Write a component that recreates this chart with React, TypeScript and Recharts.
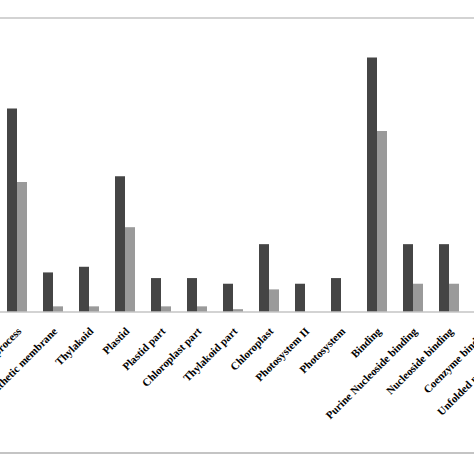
import React from 'react';
import { BarChart, Bar, XAxis, YAxis, ReferenceLine } from 'recharts';

const categories = [
  'Metabolic process',
  'Photosynthetic membrane',
  'Thylakoid',
  'Plastid',
  'Plastid part',
  'Chloroplast part',
  'Thylakoid part',
  'Chloroplast',
  'Photosystem II',
  'Photosystem',
  'Binding',
  'Purine Nucleoside binding',
  'Nucleoside binding',
  'Coenzyme binding',
  'Unfolded protein binding',
];

const darkValues = [36, 7, 8, 24, 6, 6, 5, 12, 5, 6, 45, 12, 12, 12, 4];
const lightValues = [23, 1, 1, 15, 1, 1, 0.5, 4, 0, 0, 32, 5, 5, 5, 1];

const data = categories.map((name, i) => ({
  name,
  dark: darkValues[i],
  light: lightValues[i],
}));

const LINE = '#c4c4c4';

function SlantTick(props: any) {
  const { x, y, payload } = props;
  const tx = x + 5;
  const ty = y + 12;
  return (
    <text
      x={tx}
      y={ty}
      transform={`rotate(-45 ${tx} ${ty})`}
      textAnchor="end"
      fontFamily="'Liberation Serif', 'Times New Roman', serif"
      fontWeight="bold"
      fontSize={11}
      fill="#000"
    >
      {payload.value}
    </text>
  );
}

export default function App() {
  return (
    <div style={{ position: 'absolute', left: 0, top: 0, width: 474, height: 474, overflow: 'hidden', background: '#fff' }}>
      <div style={{ position: 'absolute', left: -1.5, top: 0 }}>
        <BarChart
          width={540}
          height={474}
          data={data}
          margin={{ top: 18, right: 0, left: 0, bottom: 0 }}
          barGap={0}
        >
          <XAxis
            dataKey="name"
            interval={0}
            height={162}
            tickLine={false}
            axisLine={{ stroke: LINE, strokeWidth: 1.5 }}
            tick={SlantTick}
          />
          <YAxis hide domain={[0, 52]} />
          <ReferenceLine y={52} stroke={LINE} strokeWidth={1.5} />
          <Bar dataKey="dark" fill="#454545" barSize={10} isAnimationActive={false} />
          <Bar dataKey="light" fill="#9a9a9a" barSize={10} isAnimationActive={false} />
        </BarChart>
      </div>
      <div style={{ position: 'absolute', left: 0, top: 452, width: 474, height: 1.5, background: LINE }} />
    </div>
  );
}
